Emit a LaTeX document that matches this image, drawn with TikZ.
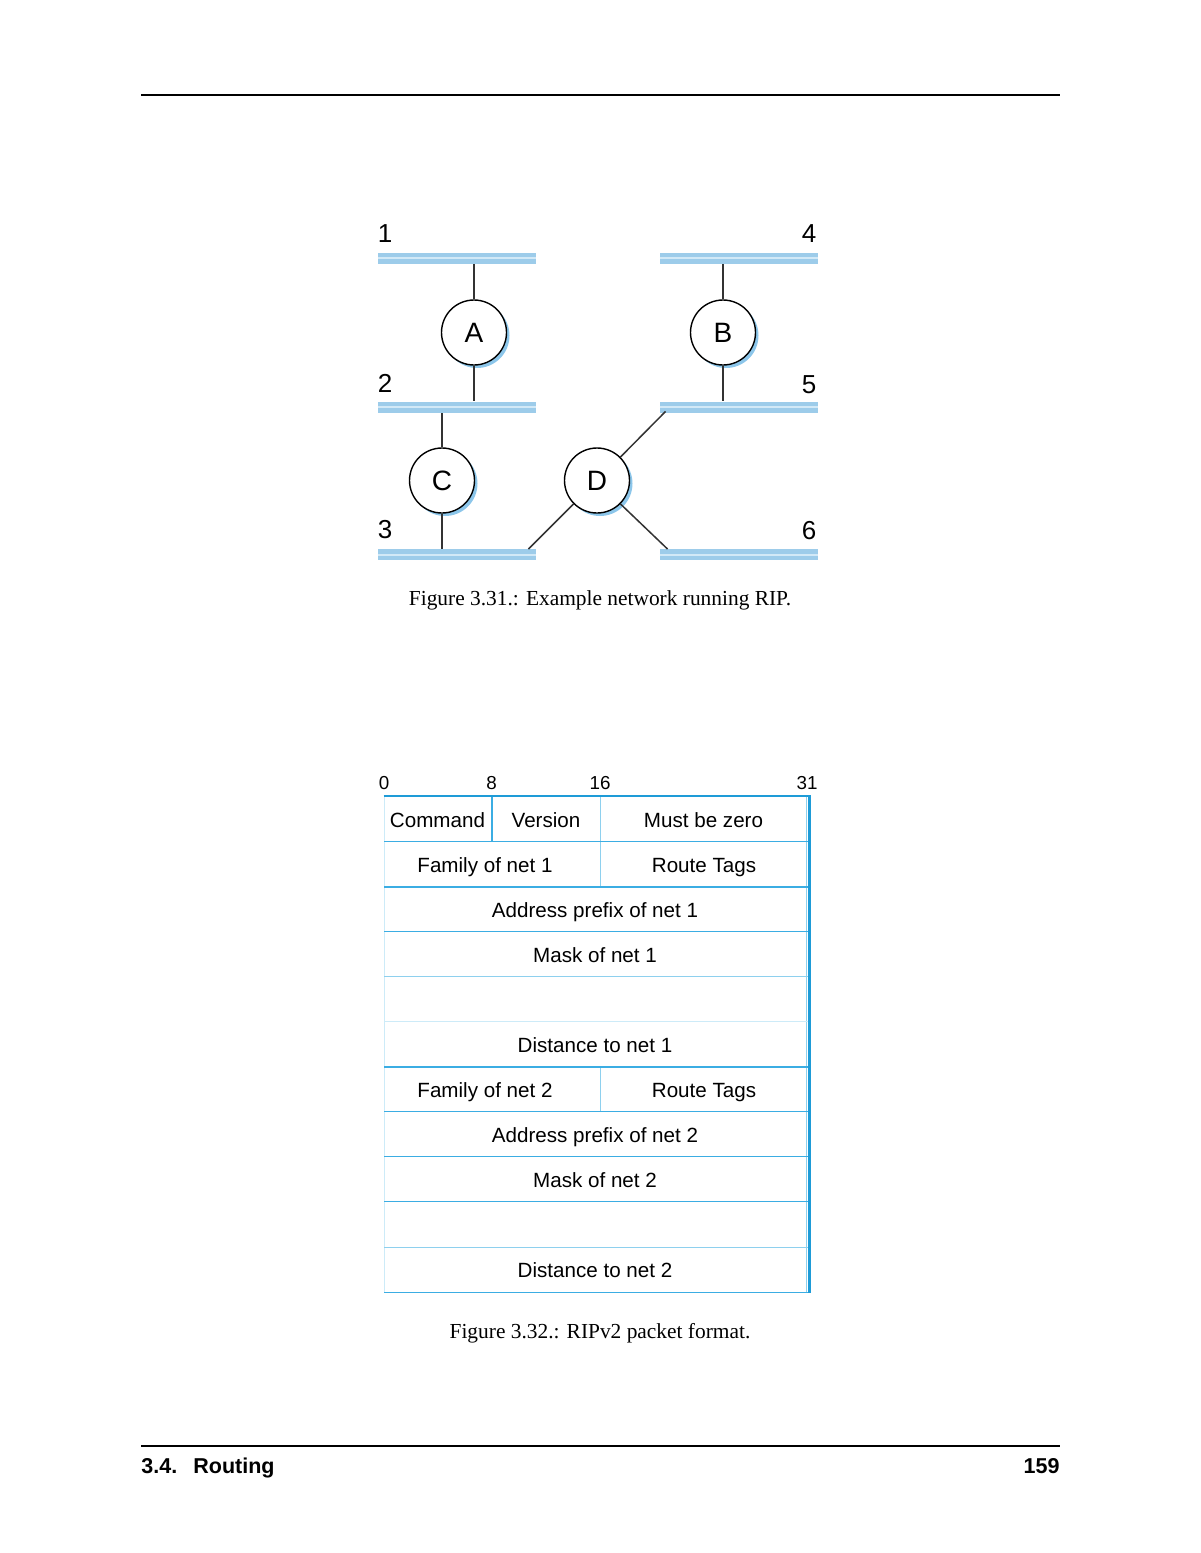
\documentclass[tikz,border=0pt]{standalone}
\usepackage{fontspec}
\setmainfont{Liberation Serif}
\setsansfont{Liberation Sans}
\usetikzlibrary{shadows,calc}
\definecolor{busc}{HTML}{9DCCEA}
\definecolor{busin}{HTML}{D2E9F7}
\definecolor{shadc}{HTML}{8CC6EA}
\definecolor{linkc}{HTML}{333333}
\definecolor{strongc}{HTML}{1E9BD7}
\definecolor{medc}{HTML}{3BADE3}
\definecolor{lightc}{HTML}{8ED0EE}
\definecolor{vlightc}{HTML}{CDEBF8}
\begin{document}
\begin{tikzpicture}[x=0.5pt,y=-0.5pt,
  bus/.style={rectangle,fill=busc,draw=none,minimum width=79pt,minimum height=5.5pt,inner sep=0pt},
  router/.style={circle,draw=black,line width=0.7pt,fill=white,minimum size=32.5pt,inner sep=0pt,
     font=\sffamily\fontsize{14}{16}\selectfont,
     drop shadow={shadow xshift=1.5pt,shadow yshift=-1.5pt,fill=shadc,opacity=1}},
  link/.style={draw=linkc,line width=0.75pt},
  netlbl/.style={anchor=base,inner sep=0pt,font=\sffamily\fontsize{13}{15}\selectfont},
  cell/.style={anchor=base,inner sep=0pt,font=\sffamily\fontsize{10.3}{12}\selectfont},
  bitlbl/.style={anchor=base,inner sep=0pt,font=\sffamily\fontsize{9.4}{11}\selectfont},
  caption/.style={anchor=base,inner sep=0pt,font=\fontsize{10.7}{13}\selectfont},
  foot/.style={inner sep=0pt,font=\sffamily\bfseries\fontsize{10.75}{13}\selectfont},
  strongl/.style={draw=strongc,line width=1.4pt},
  medl/.style={draw=medc,line width=0.75pt},
  lightl/.style={draw=lightc,line width=0.5pt},
  vlightl/.style={draw=vlightc,line width=0.5pt}
]
\path[use as bounding box] (0,0) rectangle (1200,1553);

% header / footer rules
\draw[line width=0.7pt] (141,95) -- (1060,95);
\draw[line width=0.7pt] (141,1446) -- (1060,1446);
\node[foot,anchor=base west] (sec) at (141,1473.5) {3.4.\hspace{0.75em}Routing};
\node[foot,anchor=base east] (pg) at (1060,1473.5) {159};

% ---------- Figure 3.31 ----------
\node[bus] (b1) at (457,258.3) {};
\node[bus] (b2) at (457,407) {};
\node[bus] (b3) at (457,554.5) {};
\node[bus] (b4) at (739,258.3) {};
\node[bus] (b5) at (739,407) {};
\node[bus] (b6) at (739,554.5) {};
\foreach \b in {b1,b2,b3,b4,b5,b6}
  \draw[busin,line width=1pt] (\b.west) -- (\b.east);

\node[netlbl] (l1) at (385,242.5) {1};
\node[netlbl] (l2) at (385,392.5) {2};
\node[netlbl] (l3) at (385,538.3) {3};
\node[netlbl] (l4) at (809,242.5) {4};
\node[netlbl] (l5) at (809,393.5) {5};
\node[netlbl] (l6) at (809,539) {6};

\node[router] (A) at (474,332.5) {A};
\node[router] (B) at (723,332.5) {B};
\node[router] (C) at (442,480.5) {C};
\node[router] (D) at (597,480.5) {D};

\draw[link] (A.north) -- (A.north |- b1.south);
\draw[link] (A.south) -- (A.south |- b2.north);
\draw[link] (B.north) -- (B.north |- b4.south);
\draw[link] (B.south) -- (B.south |- b5.north);
\draw[link] (C.north) -- (C.north |- b2.south);
\draw[link] (C.south) -- (C.south |- b3.north);
\draw[link] (D.45) -- ($(b5.south west)+(6,-1.5)$);
\draw[link] (D.225) -- ($(b3.north east)+(-8,0.5)$);
\draw[link] (D.315) -- ($(b6.north west)+(8,0.5)$);

\node[caption] (cap1) at (600,605) {Figure 3.31.: Example network running RIP.};

% ---------- Figure 3.32 ----------
\node[bitlbl] (bit0) at (384,789) {0};
\node[bitlbl] (bit8) at (491.5,789) {8};
\node[bitlbl] (bit16) at (600,789) {16};
\node[bitlbl] (bit31) at (807,789) {31};

% vertical dividers
\draw[vlightl] (384,796) -- (384,1292.5);
\draw[medl] (492,796) -- (492,841.5);
\draw[lightl] (600,796) -- (600,887);
\draw[lightl] (600,1067) -- (600,1111.5);
\draw[lightl] (806,796) -- (806,1292.5);
% horizontal lines
\draw[medl] (384,841.5) -- (808,841.5);
\draw[medl] (384,887) -- (808,887);
\draw[medl] (384,931.5) -- (808,931.5);
\draw[lightl] (384,976.5) -- (808,976.5);
\draw[vlightl] (384,1021.5) -- (808,1021.5);
\draw[medl] (384,1067) -- (808,1067);
\draw[medl] (384,1111.5) -- (808,1111.5);
\draw[medl] (384,1156.5) -- (808,1156.5);
\draw[medl] (384,1201.5) -- (808,1201.5);
\draw[lightl] (384,1247) -- (808,1247);
\draw[medl] (384,1292.5) -- (809,1292.5);
% strong borders
\draw[strongl] (383.5,796) -- (810.5,796);
\draw[strongl] (809.3,795) -- (809.3,1293);

\node[cell] (cmd) at (437.5,827) {Command};
\node[cell] (ver) at (546,827) {Version};
\node[cell] (mbz) at (703.5,827) {Must be zero};
\node[cell] (fam1) at (485,872) {Family of net 1};
\node[cell] (rt1) at (704,872) {Route Tags};
\node[cell] (ap1) at (595,917) {Address prefix of net 1};
\node[cell] (m1) at (595,962) {Mask of net 1};
\node[cell] (d1) at (595,1052) {Distance to net 1};
\node[cell] (fam2) at (485,1097) {Family of net 2};
\node[cell] (rt2) at (704,1097) {Route Tags};
\node[cell] (ap2) at (595,1142) {Address prefix of net 2};
\node[cell] (m2) at (595,1187) {Mask of net 2};
\node[cell] (d2) at (595,1277) {Distance to net 2};

\node[caption] (cap2) at (600,1338.5) {Figure 3.32.: RIPv2 packet format.};
\end{tikzpicture}
\end{document}
